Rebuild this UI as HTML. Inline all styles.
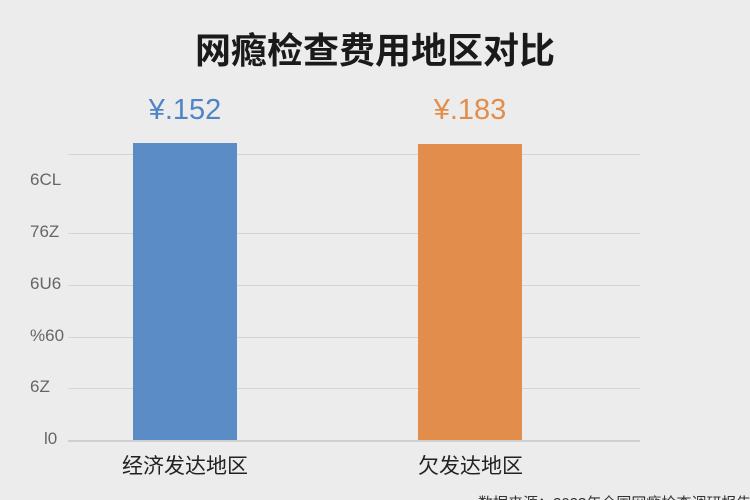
<!DOCTYPE html><html style="width:750px;height:500px;overflow:hidden"><head><meta charset="utf-8"><style>
body{margin:0;width:750px;height:500px;background:#ececec;position:relative;overflow:hidden;font-family:"Liberation Sans","Noto Sans CJK SC",sans-serif}
.t{position:absolute;white-space:nowrap}
.g{position:absolute;left:68px;width:572px;height:1px;background:#d4d4d4}
.y{position:absolute;left:30px;font-size:17px;color:#666;width:40px}
</style></head><body>
<div class="t" style="left:0;width:750px;text-align:center;top:22px;font-size:36px;font-weight:bold;color:#1a1a1a">网瘾检查费用地区对比</div>
<div class="g" style="top:154px"></div><div class="g" style="top:233px"></div><div class="g" style="top:285px"></div><div class="g" style="top:337px"></div><div class="g" style="top:388px"></div><div class="g" style="top:440px;height:2px;background:#cfcfcf"></div>
<div class="y" style="top:170px">6CL</div><div class="y" style="top:222px">76Z</div><div class="y" style="top:274px">6U6</div><div class="y" style="top:326px">%60</div><div class="y" style="top:377px">6Z</div><div class="y" style="top:429px;left:44px">l0</div>
<div style="position:absolute;left:133px;top:143px;width:104px;height:297px;background:#5b8cc6"></div>
<div style="position:absolute;left:418px;top:144px;width:104px;height:296px;background:#e38d4c"></div>
<div class="t" style="left:133px;width:104px;text-align:center;top:94px;font-size:29px;color:#4f85c5">¥.152</div>
<div class="t" style="left:418px;width:104px;text-align:center;top:94px;font-size:29px;color:#e38d4c">¥.183</div>
<div class="t" style="left:122px;top:450px;font-size:21px;color:#222">经济发达地区</div>
<div class="t" style="left:418px;top:450px;font-size:21px;color:#222">欠发达地区</div>
<div class="t" style="left:478px;top:492px;font-size:15px;color:#333">数据来源：2023年全国网瘾检查调研报告</div>
</body></html>
